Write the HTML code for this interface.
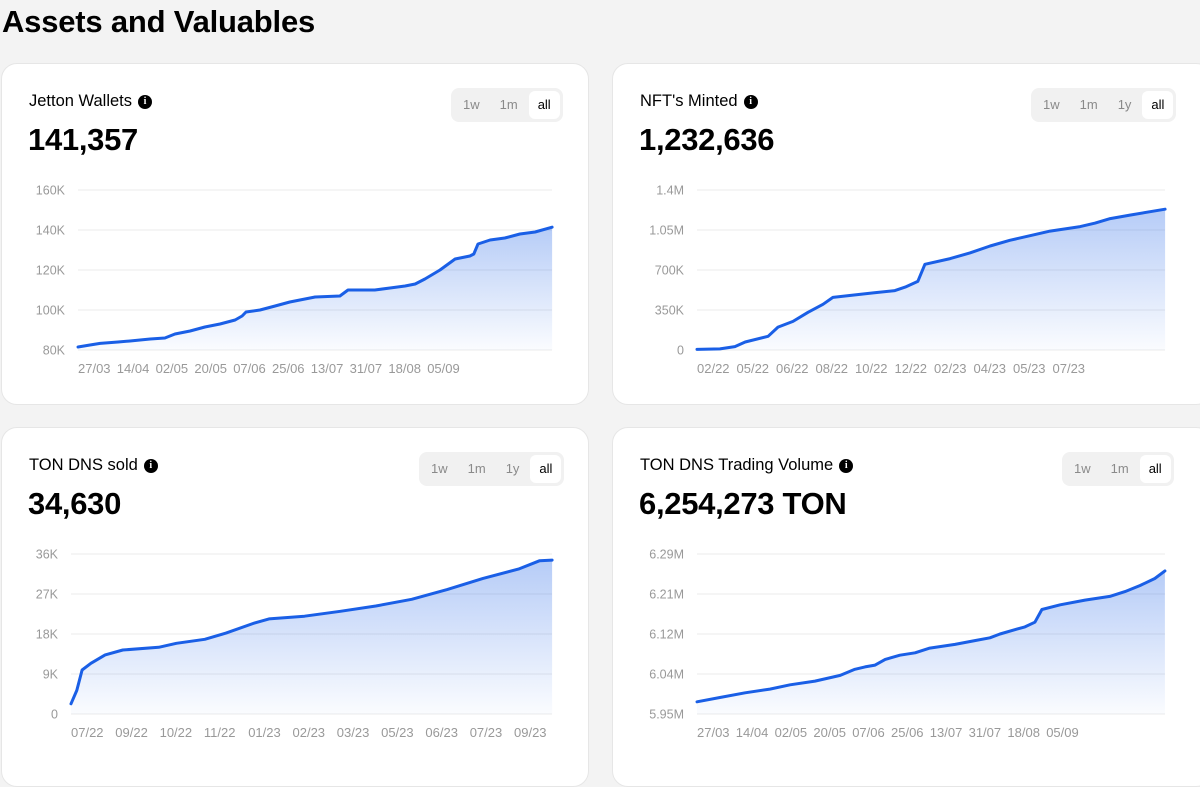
<!DOCTYPE html>
<html><head><meta charset="utf-8">
<style>
*{box-sizing:border-box;margin:0;padding:0}
body{width:1200px;height:768px;background:#f3f3f3;font-family:"Liberation Sans",sans-serif;position:relative;overflow:hidden;color:#000}
h1{position:absolute;left:2px;top:4px;font-size:31px;font-weight:bold;letter-spacing:-0.2px}
.card{position:absolute;background:#fff;border:1px solid #e6e6e6;border-radius:16px}
.title{position:absolute;left:27px;top:28px;font-size:16.5px;display:flex;align-items:center;gap:6px}
.info{width:14px;height:14px;border-radius:50%;background:#000;color:#fff;font-size:10px;font-weight:bold;display:inline-flex;align-items:center;justify-content:center;font-family:"Liberation Serif",serif}
.val{position:absolute;left:26px;top:58px;font-size:31px;font-weight:bold;letter-spacing:-0.3px}
.tog{position:absolute;top:24px;height:34px;background:#f1f1f1;border-radius:8px;display:flex;padding:3px;gap:2px}
.tog span{font-size:13px;color:#8a8a8a;padding:0 9px;line-height:28px;border-radius:6px}
.tog span.on{background:#fff;color:#000}
svg{position:absolute;left:0;top:0}
</style></head><body>
<h1>Assets and Valuables</h1>

<div class="card" id="c1" style="left:1px;top:63px;width:588px;height:342px">
 <div class="title">Jetton Wallets <span class="info">i</span></div>
 <div class="val">141,357</div>
 <div class="tog" style="left:449px"><span>1w</span><span>1m</span><span class="on">all</span></div>
</div>
<div class="card" id="c2" style="left:612px;top:63px;width:600px;height:342px">
 <div class="title">NFT's Minted <span class="info">i</span></div>
 <div class="val">1,232,636</div>
 <div class="tog" style="left:418px"><span>1w</span><span>1m</span><span>1y</span><span class="on">all</span></div>
</div>
<div class="card" id="c3" style="left:1px;top:427px;width:588px;height:360px">
 <div class="title">TON DNS sold <span class="info">i</span></div>
 <div class="val">34,630</div>
 <div class="tog" style="left:417px"><span>1w</span><span>1m</span><span>1y</span><span class="on">all</span></div>
</div>
<div class="card" id="c4" style="left:612px;top:427px;width:600px;height:360px">
 <div class="title">TON DNS Trading Volume <span class="info">i</span></div>
 <div class="val">6,254,273 TON</div>
 <div class="tog" style="left:449px"><span>1w</span><span>1m</span><span class="on">all</span></div>
</div>

<svg id="svg" width="1200" height="768"></svg>
<script>
// Chart 1: Jetton Wallets (t in x-label units, values in K)
const c1Labels=["27/03","14/04","02/05","20/05","07/06","25/06","13/07","31/07","18/08","05/09"];
const c1Ticks=[80,100,120,140,160];
const c1TickLabels=["80K","100K","120K","140K","160K"];
const c1T=[0,.31,.57,1.03,1.34,1.86,2.24,2.5,2.89,3.27,3.66,4.05,4.23,4.33,4.69,5.08,5.46,5.72,6.11,6.75,6.96,7.65,8.04,8.43,8.69,8.94,9.33,9.72,10.1,10.2,10.31,10.62,11.0,11.39,11.78,12.22];
const c1V=[81.5,82.5,83.3,84,84.5,85.5,86,88,89.5,91.5,93,95,97,99,100,102,104,105,106.5,107,110,110,111,112,113,115.5,120,125.5,127,128,133,135,136,138,139,141.4];
// Chart 2: NFTs minted (values in K)
const c2Labels=["02/22","05/22","06/22","08/22","10/22","12/22","02/23","04/23","05/23","07/23"];
const c2Ticks=[0,350,700,1050,1400];
const c2TickLabels=["0","350K","700K","1.05M","1.4M"];
const c2T=[0,.58,.96,1.22,1.8,2.05,2.43,2.81,3.19,3.44,3.95,4.46,5.01,5.27,5.59,5.77,6.41,6.91,7.42,7.92,8.43,8.94,9.7,10.08,10.46,10.96,11.47,11.85];
const c2V=[5,10,30,70,120,200,250,330,400,460,480,500,520,550,600,750,800,850,910,960,1000,1040,1080,1110,1150,1180,1210,1232];
// Chart 3: TON DNS sold (values in K)
const c3Labels=["07/22","09/22","10/22","11/22","01/23","02/23","03/23","05/23","06/23","07/23","09/23"];
const c3Ticks=[0,9,18,27,36];
const c3TickLabels=["0","9K","18K","27K","36K"];
const c3T=[0,.13,.25,.45,.77,1.17,1.98,2.38,3.02,3.5,4.15,4.47,5.27,6.08,6.88,7.69,8.49,9.3,10.1,10.58,10.86];
const c3V=[2.3,5.3,9.9,11.4,13.3,14.4,15,15.9,16.8,18.2,20.5,21.4,22,23.1,24.3,25.8,28,30.5,32.6,34.5,34.63];
// Chart 4: TON DNS trading volume (values in M)
const c4Labels=["27/03","14/04","02/05","20/05","07/06","25/06","13/07","31/07","18/08","05/09"];
const c4Ticks=[5.95,6.035,6.12,6.205,6.29];
const c4TickLabels=["5.95M","6.04M","6.12M","6.21M","6.29M"];
const c4T=[0,.59,1.24,1.88,2.4,3.04,3.69,4.07,4.33,4.59,4.85,5.23,5.62,6.0,6.65,7.16,7.55,7.81,8.27,8.45,8.71,8.89,9.36,10,10.64,11.03,11.42,11.8,12.06];
const c4V=[5.976,5.985,5.995,6.003,6.012,6.02,6.032,6.045,6.05,6.054,6.066,6.075,6.08,6.09,6.098,6.106,6.112,6.12,6.131,6.135,6.145,6.172,6.182,6.192,6.2,6.21,6.223,6.238,6.254];

const NS="http://www.w3.org/2000/svg";
const svg=document.getElementById('svg');
const defs=document.createElementNS(NS,'defs');
defs.innerHTML='<linearGradient id="g" x1="0" y1="0" x2="0" y2="1"><stop offset="0" stop-color="#1a5fe6" stop-opacity="0.32"/><stop offset="1" stop-color="#1a5fe6" stop-opacity="0.02"/></linearGradient>';
svg.appendChild(defs);
function mk(tag,attrs,parent){const e=document.createElementNS(NS,tag);for(const k in attrs)e.setAttribute(k,attrs[k]);(parent||svg).appendChild(e);return e;}
function chart(name,x0,x1,y0,y1,labelStep,labels,ticks,tickLabels,T,V,tickRight){
  const g=mk('g',{});
  
  
  const vmin=ticks[0],vmax=ticks[ticks.length-1];
  const sx=t=>x0+t*labelStep;
  const sy=v=>y1-(v-vmin)/(vmax-vmin)*(y1-y0);
  ticks.forEach((tv,i)=>{
    const gl=mk('line',{x1:x0,x2:x1,y1:sy(tv),y2:sy(tv),stroke:'#f2f2f2','stroke-width':1.5},g);
    
    
    const tx=mk('text',{x:tickRight,y:sy(tv)+4.5,'text-anchor':'end','font-size':12.5,fill:'#999','font-family':'Liberation Sans, sans-serif'},g);
    tx.textContent=tickLabels[i];
    
    
  });
  labels.forEach((l,i)=>{
    const tx=mk('text',{x:sx(i),y:y1+23,'font-size':13,fill:'#999','font-family':'Liberation Sans, sans-serif'},g);
    tx.textContent=l;
    
    
  });
  let d='';T.forEach((t,i)=>{d+=(i?'L':'M')+sx(t).toFixed(1)+' '+sy(V[i]).toFixed(1);});
  const area=mk('path',{d:d+'L'+sx(T[T.length-1])+' '+y1+'L'+sx(T[0])+' '+y1+'Z',fill:'url(#g)'},g);
  
  
  const line=mk('path',{d:d,fill:'none',stroke:'#1a5fe6','stroke-width':3,'stroke-linejoin':'round','stroke-linecap':'round'},g);
  
  
}
chart('jetton-wallets-chart',78,552,190,350,38.8,c1Labels,c1Ticks,c1TickLabels,c1T,c1V,65);
chart('nfts-minted-chart',697,1165,190,350,39.5,c2Labels,c2Ticks,c2TickLabels,c2T,c2V,684);
chart('ton-dns-sold-chart',71,552,554,714,44.3,c3Labels,c3Ticks,c3TickLabels,c3T,c3V,58);
chart('ton-dns-trading-volume-chart',697,1165,554,714,38.8,c4Labels,c4Ticks,c4TickLabels,c4T,c4V,684);
</script>
</body></html>
